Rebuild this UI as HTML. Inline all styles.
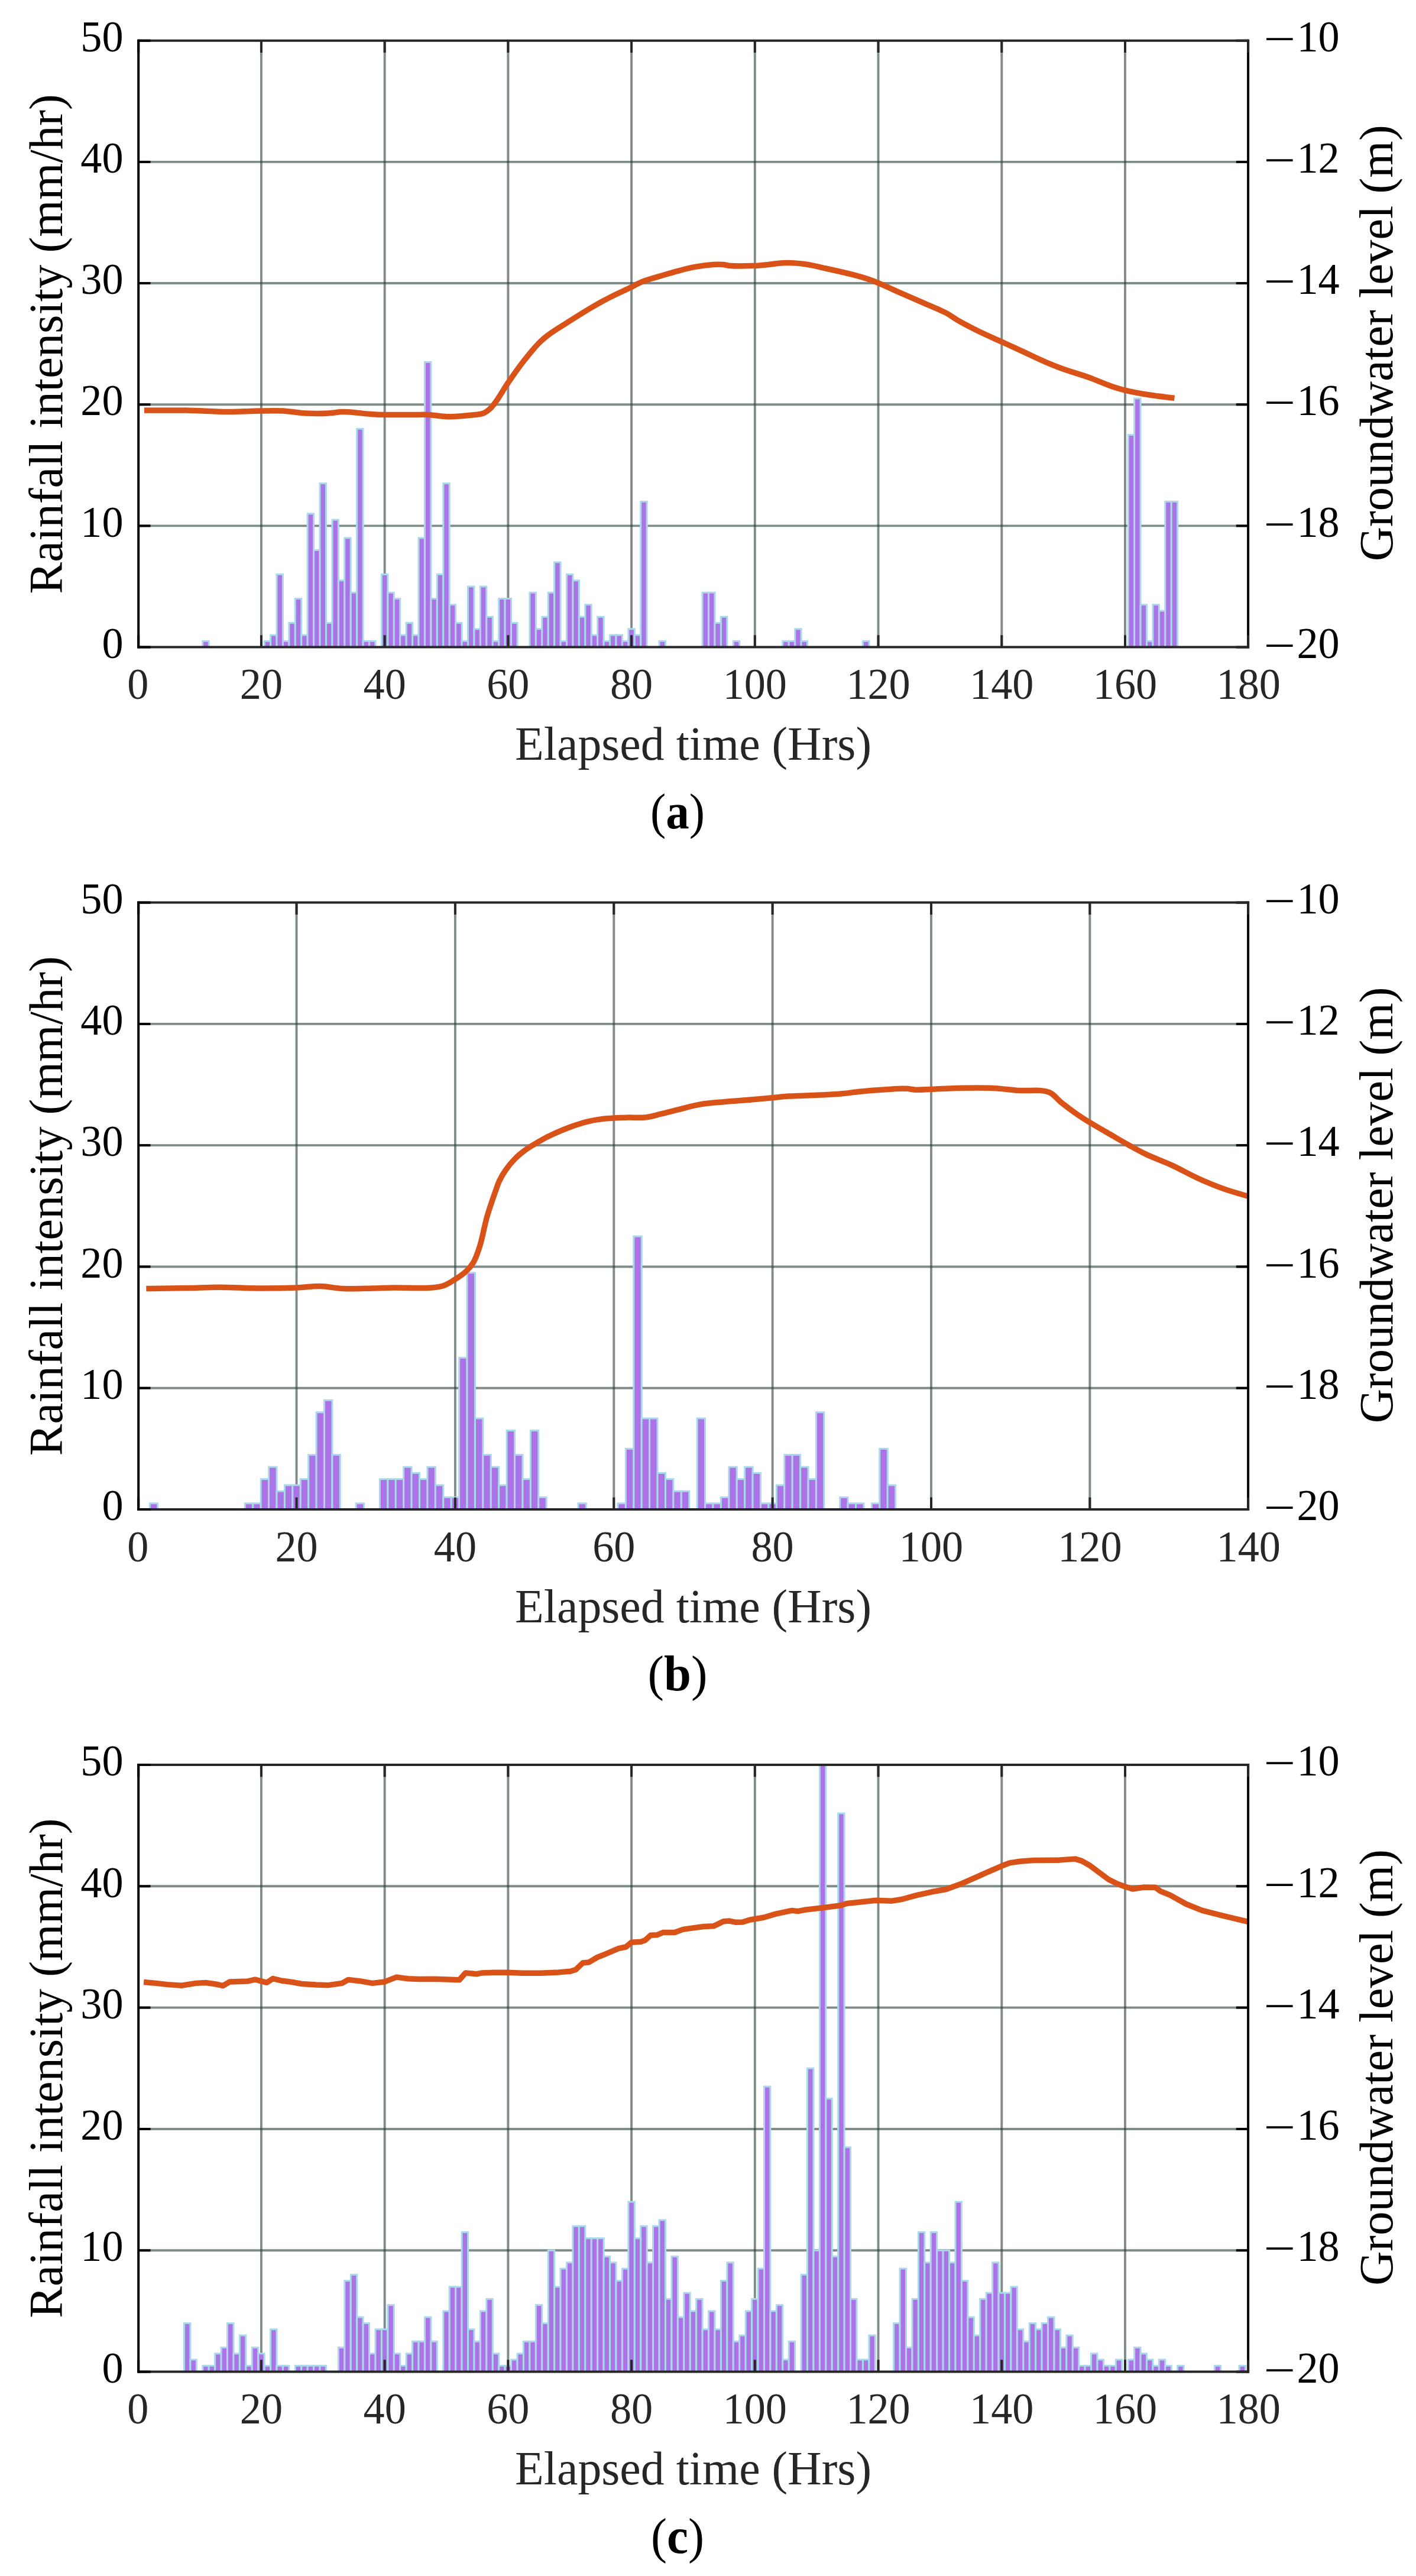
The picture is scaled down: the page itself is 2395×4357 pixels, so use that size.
<!DOCTYPE html>
<html lang="en">
<head>
<meta charset="utf-8">
<title>Rainfall intensity and groundwater level</title>
<style>
html,body{margin:0;padding:0;background:#fff;}
body{width:2395px;height:4357px;overflow:hidden;}
svg{display:block;}
text{white-space:pre;}
</style>
</head>
<body>
<svg width="2395" height="4357" viewBox="0 0 2395 4357">
<rect x="0" y="0" width="2395" height="4357" fill="#fff"/>
<g id="chart-a">
<clipPath id="clip-a"><rect x="234.2" y="68.7" width="1876.9" height="1025.9"/></clipPath>
<g stroke="rgba(42,63,60,0.6)" stroke-width="3.9" fill="none">
<line x1="441.92" y1="68.7" x2="441.92" y2="1094.6"/>
<line x1="650.64" y1="68.7" x2="650.64" y2="1094.6"/>
<line x1="859.37" y1="68.7" x2="859.37" y2="1094.6"/>
<line x1="1068.09" y1="68.7" x2="1068.09" y2="1094.6"/>
<line x1="1276.81" y1="68.7" x2="1276.81" y2="1094.6"/>
<line x1="1485.53" y1="68.7" x2="1485.53" y2="1094.6"/>
<line x1="1694.26" y1="68.7" x2="1694.26" y2="1094.6"/>
<line x1="1902.98" y1="68.7" x2="1902.98" y2="1094.6"/>
<line x1="234.2" y1="889.42" x2="2111.1" y2="889.42"/>
<line x1="234.2" y1="684.24" x2="2111.1" y2="684.24"/>
<line x1="234.2" y1="479.06" x2="2111.1" y2="479.06"/>
<line x1="234.2" y1="273.88" x2="2111.1" y2="273.88"/>
</g>
<g clip-path="url(#clip-a)" fill="#AC73E6" stroke="#AAD9EA" stroke-width="3.0">
<rect x="342.78" y="1084.34" width="10.44" height="10.26"/>
<rect x="447.14" y="1084.34" width="10.44" height="10.26"/>
<rect x="457.58" y="1074.08" width="10.44" height="20.52"/>
<rect x="468.01" y="971.49" width="10.44" height="123.11"/>
<rect x="478.45" y="1084.34" width="10.44" height="10.26"/>
<rect x="488.88" y="1053.56" width="10.44" height="41.04"/>
<rect x="499.32" y="1012.53" width="10.44" height="82.07"/>
<rect x="509.76" y="1074.08" width="10.44" height="20.52"/>
<rect x="520.19" y="868.9" width="10.44" height="225.7"/>
<rect x="530.63" y="930.46" width="10.44" height="164.14"/>
<rect x="541.07" y="817.61" width="10.44" height="276.99"/>
<rect x="551.5" y="1053.56" width="10.44" height="41.04"/>
<rect x="561.94" y="879.16" width="10.44" height="215.44"/>
<rect x="572.37" y="981.75" width="10.44" height="112.85"/>
<rect x="582.81" y="909.94" width="10.44" height="184.66"/>
<rect x="593.25" y="1002.27" width="10.44" height="92.33"/>
<rect x="603.68" y="725.28" width="10.44" height="369.32"/>
<rect x="614.12" y="1084.34" width="10.44" height="10.26"/>
<rect x="624.55" y="1084.34" width="10.44" height="10.26"/>
<rect x="645.43" y="971.49" width="10.44" height="123.11"/>
<rect x="655.86" y="1002.27" width="10.44" height="92.33"/>
<rect x="666.3" y="1012.53" width="10.44" height="82.07"/>
<rect x="676.73" y="1074.08" width="10.44" height="20.52"/>
<rect x="687.17" y="1053.56" width="10.44" height="41.04"/>
<rect x="697.61" y="1074.08" width="10.44" height="20.52"/>
<rect x="708.04" y="909.94" width="10.44" height="184.66"/>
<rect x="718.48" y="612.43" width="10.44" height="482.17"/>
<rect x="728.92" y="1012.53" width="10.44" height="82.07"/>
<rect x="739.35" y="971.49" width="10.44" height="123.11"/>
<rect x="749.79" y="817.61" width="10.44" height="276.99"/>
<rect x="760.22" y="1022.79" width="10.44" height="71.81"/>
<rect x="770.66" y="1053.56" width="10.44" height="41.04"/>
<rect x="781.1" y="1084.34" width="10.44" height="10.26"/>
<rect x="791.53" y="992.01" width="10.44" height="102.59"/>
<rect x="801.97" y="1063.82" width="10.44" height="30.78"/>
<rect x="812.4" y="992.01" width="10.44" height="102.59"/>
<rect x="822.84" y="1043.3" width="10.44" height="51.3"/>
<rect x="833.28" y="1084.34" width="10.44" height="10.26"/>
<rect x="843.71" y="1012.53" width="10.44" height="82.07"/>
<rect x="854.15" y="1012.53" width="10.44" height="82.07"/>
<rect x="864.58" y="1053.56" width="10.44" height="41.04"/>
<rect x="895.89" y="1002.27" width="10.44" height="92.33"/>
<rect x="906.33" y="1063.82" width="10.44" height="30.78"/>
<rect x="916.77" y="1043.3" width="10.44" height="51.3"/>
<rect x="927.2" y="1002.27" width="10.44" height="92.33"/>
<rect x="937.64" y="950.97" width="10.44" height="143.63"/>
<rect x="948.07" y="1084.34" width="10.44" height="10.26"/>
<rect x="958.51" y="971.49" width="10.44" height="123.11"/>
<rect x="968.95" y="981.75" width="10.44" height="112.85"/>
<rect x="979.38" y="1043.3" width="10.44" height="51.3"/>
<rect x="989.82" y="1022.79" width="10.44" height="71.81"/>
<rect x="1000.25" y="1074.08" width="10.44" height="20.52"/>
<rect x="1010.69" y="1043.3" width="10.44" height="51.3"/>
<rect x="1021.13" y="1084.34" width="10.44" height="10.26"/>
<rect x="1031.56" y="1074.08" width="10.44" height="20.52"/>
<rect x="1042" y="1074.08" width="10.44" height="20.52"/>
<rect x="1052.43" y="1084.34" width="10.44" height="10.26"/>
<rect x="1062.87" y="1063.82" width="10.44" height="30.78"/>
<rect x="1073.31" y="1074.08" width="10.44" height="20.52"/>
<rect x="1083.74" y="848.38" width="10.44" height="246.22"/>
<rect x="1115.05" y="1084.34" width="10.44" height="10.26"/>
<rect x="1188.1" y="1002.27" width="10.44" height="92.33"/>
<rect x="1198.54" y="1002.27" width="10.44" height="92.33"/>
<rect x="1208.98" y="1053.56" width="10.44" height="41.04"/>
<rect x="1219.41" y="1043.3" width="10.44" height="51.3"/>
<rect x="1240.28" y="1084.34" width="10.44" height="10.26"/>
<rect x="1323.77" y="1084.34" width="10.44" height="10.26"/>
<rect x="1334.21" y="1084.34" width="10.44" height="10.26"/>
<rect x="1344.65" y="1063.82" width="10.44" height="30.78"/>
<rect x="1355.08" y="1084.34" width="10.44" height="10.26"/>
<rect x="1459.44" y="1084.34" width="10.44" height="10.26"/>
<rect x="1908.2" y="735.53" width="10.44" height="359.06"/>
<rect x="1918.63" y="673.98" width="10.44" height="420.62"/>
<rect x="1929.07" y="1022.79" width="10.44" height="71.81"/>
<rect x="1939.5" y="1084.34" width="10.44" height="10.26"/>
<rect x="1949.94" y="1022.79" width="10.44" height="71.81"/>
<rect x="1960.38" y="1033.05" width="10.44" height="61.55"/>
<rect x="1970.81" y="848.38" width="10.44" height="246.22"/>
<rect x="1981.25" y="848.38" width="10.44" height="246.22"/>
</g>
<path clip-path="url(#clip-a)" d="M243.95 694.09C267.67 694.09 291.41 693.68 315.12 694.09C339.17 694.5 363.2 696.47 387.24 696.55C404.77 696.61 422.3 695.35 439.83 695.11C452.7 694.94 465.61 694.47 478.45 695.11C491.35 695.76 504.16 698.36 517.06 699.01C529.9 699.66 542.84 699.67 555.68 699.01C563.7 698.6 571.67 696.64 579.68 696.55C595.67 696.38 611.66 699.46 627.68 700.45C635.68 700.94 643.68 701.3 651.69 701.48C667.68 701.82 683.69 701.48 699.69 701.48C707.7 701.48 715.72 701.08 723.7 701.48C734.86 702.02 745.95 704.57 757.09 704.76C769.95 704.98 782.89 703.66 795.71 702.3C803.04 701.51 810.88 701.58 817.62 699.01C821.04 697.71 824.15 695.23 827.01 692.86C829.7 690.63 832.14 688 834.32 685.27C843.75 673.48 850.77 659.79 859.37 647.31C867.48 635.52 875.59 623.69 884.41 612.43C893.66 600.62 903.02 588.71 913.63 578.16C918.14 573.69 923.14 569.64 928.24 565.85C937.89 558.69 948.35 552.61 958.51 546.15C971.64 537.81 984.77 529.45 998.17 521.53C1007.78 515.85 1017.49 510.29 1027.39 505.12C1040.74 498.14 1054.54 492.03 1068.09 485.42C1074.36 482.36 1080.41 478.76 1086.87 476.19C1096.32 472.43 1106.33 470.09 1116.09 467.16C1126.16 464.14 1136.21 461.03 1146.36 458.34C1156.04 455.77 1165.74 453.16 1175.58 451.36C1185.57 449.53 1195.72 448.11 1205.85 447.46C1211.39 447.11 1217.01 447.01 1222.54 447.46C1226.75 447.8 1230.86 449.2 1235.07 449.51C1251.66 450.76 1268.5 449.82 1285.16 448.9C1290.04 448.63 1294.9 447.94 1299.77 447.46C1309.51 446.5 1319.24 444.72 1328.99 444.59C1340.46 444.44 1352.06 445.46 1363.43 447.05C1373.62 448.48 1383.63 451.2 1393.7 453.41C1410.08 457.02 1426.53 460.42 1442.75 464.7C1452.92 467.38 1463.07 470.29 1473.01 473.73C1477.25 475.19 1481.4 476.91 1485.53 478.65C1498.53 484.1 1511.25 490.2 1524.15 495.88C1537.34 501.69 1550.61 507.32 1563.8 513.12C1575.66 518.33 1587.86 522.89 1599.29 528.92C1607.58 533.29 1615.13 539.06 1623.29 543.69C1633.18 549.31 1643.34 554.48 1653.55 559.49C1666.95 566.06 1680.69 571.94 1694.26 578.16C1706.78 583.91 1719.31 589.63 1731.83 595.4C1743.66 600.85 1755.35 606.65 1767.31 611.81C1776.94 615.96 1786.68 619.92 1796.53 623.51C1811.32 628.89 1826.58 632.97 1841.4 638.28C1854.75 643.06 1867.64 649.13 1881.06 653.67C1888.26 656.1 1895.59 658.25 1902.98 660.03C1916.74 663.34 1930.74 665.8 1944.72 668.03C1958.57 670.24 1972.55 671.59 1986.47 673.37" fill="none" stroke="#D95319" stroke-width="9.5" stroke-linejoin="round" stroke-linecap="butt"/>
<g stroke="#000" stroke-width="4.0" fill="none">
<line x1="2111.1" y1="66.7" x2="2111.1" y2="1096.6"/>
<line x1="2111.1" y1="1094.6" x2="2090.8" y2="1094.6"/>
<line x1="2111.1" y1="889.42" x2="2090.8" y2="889.42"/>
<line x1="2111.1" y1="684.24" x2="2090.8" y2="684.24"/>
<line x1="2111.1" y1="479.06" x2="2090.8" y2="479.06"/>
<line x1="2111.1" y1="273.88" x2="2090.8" y2="273.88"/>
<line x1="2111.1" y1="68.7" x2="2090.8" y2="68.7"/>
</g>
<g stroke="#262626" stroke-width="4.0" fill="none">
<line x1="232.2" y1="68.7" x2="2113.1" y2="68.7"/>
<line x1="232.2" y1="1094.6" x2="2113.1" y2="1094.6"/>
<line x1="234.2" y1="1094.6" x2="234.2" y2="1074.3"/>
<line x1="234.2" y1="68.7" x2="234.2" y2="89"/>
<line x1="441.92" y1="1094.6" x2="441.92" y2="1074.3"/>
<line x1="441.92" y1="68.7" x2="441.92" y2="89"/>
<line x1="650.64" y1="1094.6" x2="650.64" y2="1074.3"/>
<line x1="650.64" y1="68.7" x2="650.64" y2="89"/>
<line x1="859.37" y1="1094.6" x2="859.37" y2="1074.3"/>
<line x1="859.37" y1="68.7" x2="859.37" y2="89"/>
<line x1="1068.09" y1="1094.6" x2="1068.09" y2="1074.3"/>
<line x1="1068.09" y1="68.7" x2="1068.09" y2="89"/>
<line x1="1276.81" y1="1094.6" x2="1276.81" y2="1074.3"/>
<line x1="1276.81" y1="68.7" x2="1276.81" y2="89"/>
<line x1="1485.53" y1="1094.6" x2="1485.53" y2="1074.3"/>
<line x1="1485.53" y1="68.7" x2="1485.53" y2="89"/>
<line x1="1694.26" y1="1094.6" x2="1694.26" y2="1074.3"/>
<line x1="1694.26" y1="68.7" x2="1694.26" y2="89"/>
<line x1="1902.98" y1="1094.6" x2="1902.98" y2="1074.3"/>
<line x1="1902.98" y1="68.7" x2="1902.98" y2="89"/>
<line x1="2111.1" y1="1094.6" x2="2111.1" y2="1074.3"/>
<line x1="2111.1" y1="68.7" x2="2111.1" y2="89"/>
</g>
<g stroke="#000" stroke-width="4.0" fill="none">
<line x1="234.2" y1="66.7" x2="234.2" y2="1096.6"/>
<line x1="234.2" y1="1094.6" x2="254.5" y2="1094.6"/>
<line x1="234.2" y1="889.42" x2="254.5" y2="889.42"/>
<line x1="234.2" y1="684.24" x2="254.5" y2="684.24"/>
<line x1="234.2" y1="479.06" x2="254.5" y2="479.06"/>
<line x1="234.2" y1="273.88" x2="254.5" y2="273.88"/>
<line x1="234.2" y1="68.7" x2="254.5" y2="68.7"/>
</g>
<g font-family='"Liberation Serif", "DejaVu Serif", serif' font-size="74.2" fill="#262626" text-anchor="middle">
<text x="233.2" y="1182.1" textLength="36.1" lengthAdjust="spacingAndGlyphs">0</text>
<text x="441.92" y="1182.1" textLength="72.2" lengthAdjust="spacingAndGlyphs">20</text>
<text x="650.64" y="1182.1" textLength="72.2" lengthAdjust="spacingAndGlyphs">40</text>
<text x="859.37" y="1182.1" textLength="72.2" lengthAdjust="spacingAndGlyphs">60</text>
<text x="1068.09" y="1182.1" textLength="72.2" lengthAdjust="spacingAndGlyphs">80</text>
<text x="1276.81" y="1182.1" textLength="108.3" lengthAdjust="spacingAndGlyphs">100</text>
<text x="1485.53" y="1182.1" textLength="108.3" lengthAdjust="spacingAndGlyphs">120</text>
<text x="1694.26" y="1182.1" textLength="108.3" lengthAdjust="spacingAndGlyphs">140</text>
<text x="1902.98" y="1182.1" textLength="108.3" lengthAdjust="spacingAndGlyphs">160</text>
<text x="2111.7" y="1182.1" textLength="108.3" lengthAdjust="spacingAndGlyphs">180</text>
</g>
<g font-family='"Liberation Serif", "DejaVu Serif", serif' font-size="74.2" fill="#000" text-anchor="end">
<text x="208.5" y="1112.8" textLength="36.1" lengthAdjust="spacingAndGlyphs">0</text>
<text x="208.5" y="907.62" textLength="72.2" lengthAdjust="spacingAndGlyphs">10</text>
<text x="208.5" y="702.44" textLength="72.2" lengthAdjust="spacingAndGlyphs">20</text>
<text x="208.5" y="497.26" textLength="72.2" lengthAdjust="spacingAndGlyphs">30</text>
<text x="208.5" y="292.08" textLength="72.2" lengthAdjust="spacingAndGlyphs">40</text>
<text x="208.5" y="86.9" textLength="72.2" lengthAdjust="spacingAndGlyphs">50</text>
</g>
<g font-family='"Liberation Serif", "DejaVu Serif", serif' font-size="74.2" fill="#000">
<text y="1112.8"><tspan x="2137.5" dy="4" textLength="54" lengthAdjust="spacingAndGlyphs">−</tspan><tspan x="2193.5" dy="-4" textLength="72.2" lengthAdjust="spacingAndGlyphs">20</tspan></text>
<text y="907.62"><tspan x="2137.5" dy="4" textLength="54" lengthAdjust="spacingAndGlyphs">−</tspan><tspan x="2193.5" dy="-4" textLength="72.2" lengthAdjust="spacingAndGlyphs">18</tspan></text>
<text y="702.44"><tspan x="2137.5" dy="4" textLength="54" lengthAdjust="spacingAndGlyphs">−</tspan><tspan x="2193.5" dy="-4" textLength="72.2" lengthAdjust="spacingAndGlyphs">16</tspan></text>
<text y="497.26"><tspan x="2137.5" dy="4" textLength="54" lengthAdjust="spacingAndGlyphs">−</tspan><tspan x="2193.5" dy="-4" textLength="72.2" lengthAdjust="spacingAndGlyphs">14</tspan></text>
<text y="292.08"><tspan x="2137.5" dy="4" textLength="54" lengthAdjust="spacingAndGlyphs">−</tspan><tspan x="2193.5" dy="-4" textLength="72.2" lengthAdjust="spacingAndGlyphs">12</tspan></text>
<text y="86.9"><tspan x="2137.5" dy="4" textLength="54" lengthAdjust="spacingAndGlyphs">−</tspan><tspan x="2193.5" dy="-4" textLength="72.2" lengthAdjust="spacingAndGlyphs">10</tspan></text>
</g>
<g font-family='"Liberation Serif", "DejaVu Serif", serif' font-size="81" text-anchor="middle">
<text x="1172.5" y="1285.4" fill="#262626" textLength="603" lengthAdjust="spacingAndGlyphs">Elapsed time (Hrs)</text>
<text transform="translate(104.8 581.8) rotate(-90)" fill="#000" textLength="845.2" lengthAdjust="spacingAndGlyphs">Rainfall intensity (mm/hr)</text>
<text transform="translate(2354.5 580.15) rotate(-90)" fill="#000" textLength="738" lengthAdjust="spacingAndGlyphs">Groundwater level (m)</text>
</g>
<text x="1146" y="1400.9" font-family='"Liberation Serif", "DejaVu Serif", serif' font-size="85" fill="#000" text-anchor="middle" textLength="92" lengthAdjust="spacingAndGlyphs">(<tspan font-weight="bold">a</tspan>)</text>
</g>
<g id="chart-b">
<clipPath id="clip-b"><rect x="234.2" y="1526.6" width="1876.9" height="1026.4"/></clipPath>
<g stroke="rgba(42,63,60,0.6)" stroke-width="3.9" fill="none">
<line x1="501.56" y1="1526.6" x2="501.56" y2="2553"/>
<line x1="769.91" y1="1526.6" x2="769.91" y2="2553"/>
<line x1="1038.27" y1="1526.6" x2="1038.27" y2="2553"/>
<line x1="1306.63" y1="1526.6" x2="1306.63" y2="2553"/>
<line x1="1574.99" y1="1526.6" x2="1574.99" y2="2553"/>
<line x1="1843.34" y1="1526.6" x2="1843.34" y2="2553"/>
<line x1="234.2" y1="2347.72" x2="2111.1" y2="2347.72"/>
<line x1="234.2" y1="2142.44" x2="2111.1" y2="2142.44"/>
<line x1="234.2" y1="1937.16" x2="2111.1" y2="1937.16"/>
<line x1="234.2" y1="1731.88" x2="2111.1" y2="1731.88"/>
</g>
<g clip-path="url(#clip-b)" fill="#AC73E6" stroke="#AAD9EA" stroke-width="3.0">
<rect x="253.33" y="2542.74" width="13.42" height="10.26"/>
<rect x="414.34" y="2542.74" width="13.42" height="10.26"/>
<rect x="427.76" y="2542.74" width="13.42" height="10.26"/>
<rect x="441.18" y="2501.68" width="13.42" height="51.32"/>
<rect x="454.59" y="2481.15" width="13.42" height="71.85"/>
<rect x="468.01" y="2522.21" width="13.42" height="30.79"/>
<rect x="481.43" y="2511.94" width="13.42" height="41.06"/>
<rect x="494.85" y="2511.94" width="13.42" height="41.06"/>
<rect x="508.27" y="2501.68" width="13.42" height="51.32"/>
<rect x="521.68" y="2460.62" width="13.42" height="92.38"/>
<rect x="535.1" y="2388.78" width="13.42" height="164.22"/>
<rect x="548.52" y="2368.25" width="13.42" height="184.75"/>
<rect x="561.94" y="2460.62" width="13.42" height="92.38"/>
<rect x="602.19" y="2542.74" width="13.42" height="10.26"/>
<rect x="642.44" y="2501.68" width="13.42" height="51.32"/>
<rect x="655.86" y="2501.68" width="13.42" height="51.32"/>
<rect x="669.28" y="2501.68" width="13.42" height="51.32"/>
<rect x="682.7" y="2481.15" width="13.42" height="71.85"/>
<rect x="696.12" y="2491.42" width="13.42" height="61.58"/>
<rect x="709.53" y="2501.68" width="13.42" height="51.32"/>
<rect x="722.95" y="2481.15" width="13.42" height="71.85"/>
<rect x="736.37" y="2511.94" width="13.42" height="41.06"/>
<rect x="749.79" y="2532.47" width="13.42" height="20.53"/>
<rect x="763.21" y="2532.47" width="13.42" height="20.53"/>
<rect x="776.62" y="2296.4" width="13.42" height="256.6"/>
<rect x="790.04" y="2152.7" width="13.42" height="400.3"/>
<rect x="803.46" y="2399.04" width="13.42" height="153.96"/>
<rect x="816.88" y="2460.62" width="13.42" height="92.38"/>
<rect x="830.29" y="2481.15" width="13.42" height="71.85"/>
<rect x="843.71" y="2511.94" width="13.42" height="41.06"/>
<rect x="857.13" y="2419.57" width="13.42" height="133.43"/>
<rect x="870.55" y="2460.62" width="13.42" height="92.38"/>
<rect x="883.97" y="2501.68" width="13.42" height="51.32"/>
<rect x="897.38" y="2419.57" width="13.42" height="133.43"/>
<rect x="910.8" y="2532.47" width="13.42" height="20.53"/>
<rect x="977.89" y="2542.74" width="13.42" height="10.26"/>
<rect x="1044.98" y="2542.74" width="13.42" height="10.26"/>
<rect x="1058.4" y="2450.36" width="13.42" height="102.64"/>
<rect x="1071.82" y="2091.12" width="13.42" height="461.88"/>
<rect x="1085.23" y="2399.04" width="13.42" height="153.96"/>
<rect x="1098.65" y="2399.04" width="13.42" height="153.96"/>
<rect x="1112.07" y="2491.42" width="13.42" height="61.58"/>
<rect x="1125.49" y="2501.68" width="13.42" height="51.32"/>
<rect x="1138.91" y="2522.21" width="13.42" height="30.79"/>
<rect x="1152.32" y="2522.21" width="13.42" height="30.79"/>
<rect x="1179.16" y="2399.04" width="13.42" height="153.96"/>
<rect x="1192.58" y="2542.74" width="13.42" height="10.26"/>
<rect x="1205.99" y="2542.74" width="13.42" height="10.26"/>
<rect x="1219.41" y="2532.47" width="13.42" height="20.53"/>
<rect x="1232.83" y="2481.15" width="13.42" height="71.85"/>
<rect x="1246.25" y="2501.68" width="13.42" height="51.32"/>
<rect x="1259.67" y="2481.15" width="13.42" height="71.85"/>
<rect x="1273.08" y="2491.42" width="13.42" height="61.58"/>
<rect x="1286.5" y="2542.74" width="13.42" height="10.26"/>
<rect x="1299.92" y="2542.74" width="13.42" height="10.26"/>
<rect x="1313.34" y="2511.94" width="13.42" height="41.06"/>
<rect x="1326.76" y="2460.62" width="13.42" height="92.38"/>
<rect x="1340.17" y="2460.62" width="13.42" height="92.38"/>
<rect x="1353.59" y="2481.15" width="13.42" height="71.85"/>
<rect x="1367.01" y="2501.68" width="13.42" height="51.32"/>
<rect x="1380.43" y="2388.78" width="13.42" height="164.22"/>
<rect x="1420.68" y="2532.47" width="13.42" height="20.53"/>
<rect x="1434.1" y="2542.74" width="13.42" height="10.26"/>
<rect x="1447.52" y="2542.74" width="13.42" height="10.26"/>
<rect x="1474.35" y="2542.74" width="13.42" height="10.26"/>
<rect x="1487.77" y="2450.36" width="13.42" height="102.64"/>
<rect x="1501.19" y="2511.94" width="13.42" height="41.06"/>
</g>
<path clip-path="url(#clip-b)" d="M247.29 2179.6C271.22 2179.25 295.15 2179.09 319.07 2178.57C335.63 2178.21 352.17 2177.15 368.72 2177.13C391.53 2177.11 414.34 2178.85 437.15 2178.98C458.62 2179.1 480.11 2178.78 501.56 2177.95C514.99 2177.44 528.42 2175.2 541.81 2175.49C554.81 2175.78 567.72 2178.99 580.72 2179.6C597.23 2180.36 613.82 2179.33 630.37 2178.98C642 2178.74 653.62 2178.12 665.25 2177.95C686.72 2177.64 708.33 2179.68 729.66 2177.95C736.41 2177.41 743.44 2176.83 749.79 2174.67C756.91 2172.24 763.5 2167.88 769.91 2163.79C776.48 2159.61 783.1 2155.18 788.7 2149.83C793.27 2145.47 797.6 2140.47 800.78 2135.05C805.66 2126.71 808.56 2117.05 811.51 2107.75C816.62 2091.67 818.91 2074.72 823.59 2058.48C827.91 2043.46 833.12 2028.67 838.35 2013.93C840.37 2008.21 842.17 2002.35 844.79 1996.9C847.86 1990.48 851.56 1984.25 855.65 1978.42C860.3 1971.81 865.55 1965.49 871.22 1959.74C876 1954.89 881.34 1950.51 886.78 1946.4C891.23 1943.04 896.01 1940.11 900.74 1937.16C906.37 1933.65 912.09 1930.27 917.91 1927.1C922.97 1924.34 928.14 1921.78 933.34 1919.3C938.48 1916.85 943.67 1914.53 948.91 1912.32C954.05 1910.15 959.23 1908.06 964.47 1906.16C969.61 1904.3 974.81 1902.62 980.04 1901.03C985.19 1899.47 990.37 1897.97 995.6 1896.72C1000.7 1895.51 1005.86 1894.46 1011.03 1893.64C1016.19 1892.82 1021.4 1892.28 1026.6 1891.79C1030.48 1891.43 1034.38 1891.18 1038.27 1890.97C1045.56 1890.58 1052.85 1890.33 1060.14 1890.15C1071.19 1889.88 1082.38 1891.04 1093.28 1889.74C1101.44 1888.77 1109.41 1886.12 1117.44 1884.2C1127.3 1881.83 1137.11 1879.23 1146.96 1876.81C1158.57 1873.95 1170.08 1870.46 1181.84 1868.39C1196.44 1865.83 1211.34 1864.87 1226.12 1863.46C1242.64 1861.9 1259.23 1860.98 1275.77 1859.56C1286.06 1858.68 1296.34 1857.66 1306.63 1856.69C1316.02 1855.81 1325.4 1854.63 1334.81 1854.02C1348.2 1853.15 1361.65 1853.21 1375.06 1852.58C1391.62 1851.81 1408.2 1851.16 1424.71 1849.71C1434.57 1848.84 1444.37 1847.19 1454.22 1846.22C1468.96 1844.77 1483.73 1843.62 1498.5 1842.73C1510.12 1842.03 1521.8 1840.81 1533.39 1841.29C1538.33 1841.5 1543.21 1842.91 1548.15 1843.14C1557.06 1843.56 1566.04 1842.66 1574.99 1842.32C1588.85 1841.8 1602.71 1840.78 1616.58 1840.47C1637.59 1840.01 1658.67 1839.52 1679.64 1840.47C1693.99 1841.12 1708.25 1843.27 1722.58 1844.37C1740.01 1845.71 1759.52 1841.46 1774.91 1847.66C1782.65 1850.77 1788.17 1859.22 1795.04 1864.7C1803.34 1871.31 1811.83 1877.72 1820.53 1883.79C1827.96 1888.97 1835.63 1893.82 1843.34 1898.57C1855.25 1905.89 1867.48 1912.69 1879.57 1919.71C1889.4 1925.41 1899.15 1931.26 1909.09 1936.75C1918.83 1942.13 1928.57 1947.57 1938.61 1952.35C1952.64 1959.03 1967.43 1964.11 1981.55 1970.62C1997.42 1977.94 2012.58 1986.84 2028.51 1994.02C2042.14 2000.16 2056.02 2005.86 2070.1 2010.86C2083.76 2015.7 2097.83 2019.34 2111.7 2023.58" fill="none" stroke="#D95319" stroke-width="9.5" stroke-linejoin="round" stroke-linecap="butt"/>
<g stroke="#000" stroke-width="4.0" fill="none">
<line x1="2111.1" y1="1524.6" x2="2111.1" y2="2555"/>
<line x1="2111.1" y1="2553" x2="2090.8" y2="2553"/>
<line x1="2111.1" y1="2347.72" x2="2090.8" y2="2347.72"/>
<line x1="2111.1" y1="2142.44" x2="2090.8" y2="2142.44"/>
<line x1="2111.1" y1="1937.16" x2="2090.8" y2="1937.16"/>
<line x1="2111.1" y1="1731.88" x2="2090.8" y2="1731.88"/>
<line x1="2111.1" y1="1526.6" x2="2090.8" y2="1526.6"/>
</g>
<g stroke="#262626" stroke-width="4.0" fill="none">
<line x1="232.2" y1="1526.6" x2="2113.1" y2="1526.6"/>
<line x1="232.2" y1="2553" x2="2113.1" y2="2553"/>
<line x1="234.2" y1="2553" x2="234.2" y2="2532.7"/>
<line x1="234.2" y1="1526.6" x2="234.2" y2="1546.9"/>
<line x1="501.56" y1="2553" x2="501.56" y2="2532.7"/>
<line x1="501.56" y1="1526.6" x2="501.56" y2="1546.9"/>
<line x1="769.91" y1="2553" x2="769.91" y2="2532.7"/>
<line x1="769.91" y1="1526.6" x2="769.91" y2="1546.9"/>
<line x1="1038.27" y1="2553" x2="1038.27" y2="2532.7"/>
<line x1="1038.27" y1="1526.6" x2="1038.27" y2="1546.9"/>
<line x1="1306.63" y1="2553" x2="1306.63" y2="2532.7"/>
<line x1="1306.63" y1="1526.6" x2="1306.63" y2="1546.9"/>
<line x1="1574.99" y1="2553" x2="1574.99" y2="2532.7"/>
<line x1="1574.99" y1="1526.6" x2="1574.99" y2="1546.9"/>
<line x1="1843.34" y1="2553" x2="1843.34" y2="2532.7"/>
<line x1="1843.34" y1="1526.6" x2="1843.34" y2="1546.9"/>
<line x1="2111.1" y1="2553" x2="2111.1" y2="2532.7"/>
<line x1="2111.1" y1="1526.6" x2="2111.1" y2="1546.9"/>
</g>
<g stroke="#000" stroke-width="4.0" fill="none">
<line x1="234.2" y1="1524.6" x2="234.2" y2="2555"/>
<line x1="234.2" y1="2553" x2="254.5" y2="2553"/>
<line x1="234.2" y1="2347.72" x2="254.5" y2="2347.72"/>
<line x1="234.2" y1="2142.44" x2="254.5" y2="2142.44"/>
<line x1="234.2" y1="1937.16" x2="254.5" y2="1937.16"/>
<line x1="234.2" y1="1731.88" x2="254.5" y2="1731.88"/>
<line x1="234.2" y1="1526.6" x2="254.5" y2="1526.6"/>
</g>
<g font-family='"Liberation Serif", "DejaVu Serif", serif' font-size="74.2" fill="#262626" text-anchor="middle">
<text x="233.2" y="2640.5" textLength="36.1" lengthAdjust="spacingAndGlyphs">0</text>
<text x="501.56" y="2640.5" textLength="72.2" lengthAdjust="spacingAndGlyphs">20</text>
<text x="769.91" y="2640.5" textLength="72.2" lengthAdjust="spacingAndGlyphs">40</text>
<text x="1038.27" y="2640.5" textLength="72.2" lengthAdjust="spacingAndGlyphs">60</text>
<text x="1306.63" y="2640.5" textLength="72.2" lengthAdjust="spacingAndGlyphs">80</text>
<text x="1574.99" y="2640.5" textLength="108.3" lengthAdjust="spacingAndGlyphs">100</text>
<text x="1843.34" y="2640.5" textLength="108.3" lengthAdjust="spacingAndGlyphs">120</text>
<text x="2111.7" y="2640.5" textLength="108.3" lengthAdjust="spacingAndGlyphs">140</text>
</g>
<g font-family='"Liberation Serif", "DejaVu Serif", serif' font-size="74.2" fill="#000" text-anchor="end">
<text x="208.5" y="2571.2" textLength="36.1" lengthAdjust="spacingAndGlyphs">0</text>
<text x="208.5" y="2365.92" textLength="72.2" lengthAdjust="spacingAndGlyphs">10</text>
<text x="208.5" y="2160.64" textLength="72.2" lengthAdjust="spacingAndGlyphs">20</text>
<text x="208.5" y="1955.36" textLength="72.2" lengthAdjust="spacingAndGlyphs">30</text>
<text x="208.5" y="1750.08" textLength="72.2" lengthAdjust="spacingAndGlyphs">40</text>
<text x="208.5" y="1544.8" textLength="72.2" lengthAdjust="spacingAndGlyphs">50</text>
</g>
<g font-family='"Liberation Serif", "DejaVu Serif", serif' font-size="74.2" fill="#000">
<text y="2571.2"><tspan x="2137.5" dy="4" textLength="54" lengthAdjust="spacingAndGlyphs">−</tspan><tspan x="2193.5" dy="-4" textLength="72.2" lengthAdjust="spacingAndGlyphs">20</tspan></text>
<text y="2365.92"><tspan x="2137.5" dy="4" textLength="54" lengthAdjust="spacingAndGlyphs">−</tspan><tspan x="2193.5" dy="-4" textLength="72.2" lengthAdjust="spacingAndGlyphs">18</tspan></text>
<text y="2160.64"><tspan x="2137.5" dy="4" textLength="54" lengthAdjust="spacingAndGlyphs">−</tspan><tspan x="2193.5" dy="-4" textLength="72.2" lengthAdjust="spacingAndGlyphs">16</tspan></text>
<text y="1955.36"><tspan x="2137.5" dy="4" textLength="54" lengthAdjust="spacingAndGlyphs">−</tspan><tspan x="2193.5" dy="-4" textLength="72.2" lengthAdjust="spacingAndGlyphs">14</tspan></text>
<text y="1750.08"><tspan x="2137.5" dy="4" textLength="54" lengthAdjust="spacingAndGlyphs">−</tspan><tspan x="2193.5" dy="-4" textLength="72.2" lengthAdjust="spacingAndGlyphs">12</tspan></text>
<text y="1544.8"><tspan x="2137.5" dy="4" textLength="54" lengthAdjust="spacingAndGlyphs">−</tspan><tspan x="2193.5" dy="-4" textLength="72.2" lengthAdjust="spacingAndGlyphs">10</tspan></text>
</g>
<g font-family='"Liberation Serif", "DejaVu Serif", serif' font-size="81" text-anchor="middle">
<text x="1172.5" y="2743.8" fill="#262626" textLength="603" lengthAdjust="spacingAndGlyphs">Elapsed time (Hrs)</text>
<text transform="translate(104.8 2039.7) rotate(-90)" fill="#000" textLength="845.2" lengthAdjust="spacingAndGlyphs">Rainfall intensity (mm/hr)</text>
<text transform="translate(2354.5 2038.3) rotate(-90)" fill="#000" textLength="738" lengthAdjust="spacingAndGlyphs">Groundwater level (m)</text>
</g>
<text x="1146" y="2859.3" font-family='"Liberation Serif", "DejaVu Serif", serif' font-size="85" fill="#000" text-anchor="middle" textLength="101" lengthAdjust="spacingAndGlyphs">(<tspan font-weight="bold">b</tspan>)</text>
</g>
<g id="chart-c">
<clipPath id="clip-c"><rect x="234.2" y="2985" width="1876.9" height="1026.6"/></clipPath>
<g stroke="rgba(42,63,60,0.6)" stroke-width="3.9" fill="none">
<line x1="441.92" y1="2985" x2="441.92" y2="4011.6"/>
<line x1="650.64" y1="2985" x2="650.64" y2="4011.6"/>
<line x1="859.37" y1="2985" x2="859.37" y2="4011.6"/>
<line x1="1068.09" y1="2985" x2="1068.09" y2="4011.6"/>
<line x1="1276.81" y1="2985" x2="1276.81" y2="4011.6"/>
<line x1="1485.53" y1="2985" x2="1485.53" y2="4011.6"/>
<line x1="1694.26" y1="2985" x2="1694.26" y2="4011.6"/>
<line x1="1902.98" y1="2985" x2="1902.98" y2="4011.6"/>
<line x1="234.2" y1="3806.28" x2="2111.1" y2="3806.28"/>
<line x1="234.2" y1="3600.96" x2="2111.1" y2="3600.96"/>
<line x1="234.2" y1="3395.64" x2="2111.1" y2="3395.64"/>
<line x1="234.2" y1="3190.32" x2="2111.1" y2="3190.32"/>
</g>
<g clip-path="url(#clip-c)" fill="#AC73E6" stroke="#AAD9EA" stroke-width="3.0">
<rect x="311.47" y="3929.47" width="10.44" height="82.13"/>
<rect x="321.91" y="3991.07" width="10.44" height="20.53"/>
<rect x="342.78" y="4001.33" width="10.44" height="10.27"/>
<rect x="353.22" y="4001.33" width="10.44" height="10.27"/>
<rect x="363.65" y="3980.8" width="10.44" height="30.8"/>
<rect x="374.09" y="3970.54" width="10.44" height="41.06"/>
<rect x="384.52" y="3929.47" width="10.44" height="82.13"/>
<rect x="394.96" y="3980.8" width="10.44" height="30.8"/>
<rect x="405.4" y="3950" width="10.44" height="61.6"/>
<rect x="415.83" y="4001.33" width="10.44" height="10.27"/>
<rect x="426.27" y="3970.54" width="10.44" height="41.06"/>
<rect x="436.7" y="3980.8" width="10.44" height="30.8"/>
<rect x="447.14" y="4001.33" width="10.44" height="10.27"/>
<rect x="457.58" y="3939.74" width="10.44" height="71.86"/>
<rect x="468.01" y="4001.33" width="10.44" height="10.27"/>
<rect x="478.45" y="4001.33" width="10.44" height="10.27"/>
<rect x="499.32" y="4001.33" width="10.44" height="10.27"/>
<rect x="509.76" y="4001.33" width="10.44" height="10.27"/>
<rect x="520.19" y="4001.33" width="10.44" height="10.27"/>
<rect x="530.63" y="4001.33" width="10.44" height="10.27"/>
<rect x="541.07" y="4001.33" width="10.44" height="10.27"/>
<rect x="572.37" y="3970.54" width="10.44" height="41.06"/>
<rect x="582.81" y="3857.61" width="10.44" height="153.99"/>
<rect x="593.25" y="3847.34" width="10.44" height="164.26"/>
<rect x="603.68" y="3919.21" width="10.44" height="92.39"/>
<rect x="614.12" y="3929.47" width="10.44" height="82.13"/>
<rect x="624.55" y="3980.8" width="10.44" height="30.8"/>
<rect x="634.99" y="3939.74" width="10.44" height="71.86"/>
<rect x="645.43" y="3939.74" width="10.44" height="71.86"/>
<rect x="655.86" y="3898.67" width="10.44" height="112.93"/>
<rect x="666.3" y="3980.8" width="10.44" height="30.8"/>
<rect x="676.73" y="4001.33" width="10.44" height="10.27"/>
<rect x="687.17" y="3980.8" width="10.44" height="30.8"/>
<rect x="697.61" y="3960.27" width="10.44" height="51.33"/>
<rect x="708.04" y="3960.27" width="10.44" height="51.33"/>
<rect x="718.48" y="3919.21" width="10.44" height="92.39"/>
<rect x="728.92" y="3960.27" width="10.44" height="51.33"/>
<rect x="749.79" y="3908.94" width="10.44" height="102.66"/>
<rect x="760.22" y="3867.88" width="10.44" height="143.72"/>
<rect x="770.66" y="3867.88" width="10.44" height="143.72"/>
<rect x="781.1" y="3775.48" width="10.44" height="236.12"/>
<rect x="791.53" y="3939.74" width="10.44" height="71.86"/>
<rect x="801.97" y="3960.27" width="10.44" height="51.33"/>
<rect x="812.4" y="3908.94" width="10.44" height="102.66"/>
<rect x="822.84" y="3888.41" width="10.44" height="123.19"/>
<rect x="833.28" y="3980.8" width="10.44" height="30.8"/>
<rect x="843.71" y="4001.33" width="10.44" height="10.27"/>
<rect x="854.15" y="4001.33" width="10.44" height="10.27"/>
<rect x="864.58" y="3991.07" width="10.44" height="20.53"/>
<rect x="875.02" y="3980.8" width="10.44" height="30.8"/>
<rect x="885.46" y="3960.27" width="10.44" height="51.33"/>
<rect x="895.89" y="3960.27" width="10.44" height="51.33"/>
<rect x="906.33" y="3898.67" width="10.44" height="112.93"/>
<rect x="916.77" y="3929.47" width="10.44" height="82.13"/>
<rect x="927.2" y="3806.28" width="10.44" height="205.32"/>
<rect x="937.64" y="3867.88" width="10.44" height="143.72"/>
<rect x="948.07" y="3837.08" width="10.44" height="174.52"/>
<rect x="958.51" y="3826.81" width="10.44" height="184.79"/>
<rect x="968.95" y="3765.22" width="10.44" height="246.38"/>
<rect x="979.38" y="3765.22" width="10.44" height="246.38"/>
<rect x="989.82" y="3785.75" width="10.44" height="225.85"/>
<rect x="1000.25" y="3785.75" width="10.44" height="225.85"/>
<rect x="1010.69" y="3785.75" width="10.44" height="225.85"/>
<rect x="1021.13" y="3816.55" width="10.44" height="195.05"/>
<rect x="1031.56" y="3826.81" width="10.44" height="184.79"/>
<rect x="1042" y="3857.61" width="10.44" height="153.99"/>
<rect x="1052.43" y="3837.08" width="10.44" height="174.52"/>
<rect x="1062.87" y="3724.15" width="10.44" height="287.45"/>
<rect x="1073.31" y="3785.75" width="10.44" height="225.85"/>
<rect x="1083.74" y="3765.22" width="10.44" height="246.38"/>
<rect x="1094.18" y="3826.81" width="10.44" height="184.79"/>
<rect x="1104.62" y="3765.22" width="10.44" height="246.38"/>
<rect x="1115.05" y="3754.95" width="10.44" height="256.65"/>
<rect x="1125.49" y="3888.41" width="10.44" height="123.19"/>
<rect x="1135.92" y="3816.55" width="10.44" height="195.05"/>
<rect x="1146.36" y="3919.21" width="10.44" height="92.39"/>
<rect x="1156.8" y="3878.14" width="10.44" height="133.46"/>
<rect x="1167.23" y="3908.94" width="10.44" height="102.66"/>
<rect x="1177.67" y="3888.41" width="10.44" height="123.19"/>
<rect x="1188.1" y="3939.74" width="10.44" height="71.86"/>
<rect x="1198.54" y="3908.94" width="10.44" height="102.66"/>
<rect x="1208.98" y="3939.74" width="10.44" height="71.86"/>
<rect x="1219.41" y="3857.61" width="10.44" height="153.99"/>
<rect x="1229.85" y="3826.81" width="10.44" height="184.79"/>
<rect x="1240.28" y="3960.27" width="10.44" height="51.33"/>
<rect x="1250.72" y="3950" width="10.44" height="61.6"/>
<rect x="1261.16" y="3908.94" width="10.44" height="102.66"/>
<rect x="1271.59" y="3888.41" width="10.44" height="123.19"/>
<rect x="1282.03" y="3837.08" width="10.44" height="174.52"/>
<rect x="1292.47" y="3529.1" width="10.44" height="482.5"/>
<rect x="1302.9" y="3908.94" width="10.44" height="102.66"/>
<rect x="1313.34" y="3898.67" width="10.44" height="112.93"/>
<rect x="1323.77" y="3991.07" width="10.44" height="20.53"/>
<rect x="1334.21" y="3960.27" width="10.44" height="51.33"/>
<rect x="1355.08" y="3847.34" width="10.44" height="164.26"/>
<rect x="1365.52" y="3498.3" width="10.44" height="513.3"/>
<rect x="1375.95" y="3806.28" width="10.44" height="205.32"/>
<rect x="1386.39" y="2964.47" width="10.44" height="1047.13"/>
<rect x="1396.83" y="3549.63" width="10.44" height="461.97"/>
<rect x="1407.26" y="3816.55" width="10.44" height="195.05"/>
<rect x="1417.7" y="3067.13" width="10.44" height="944.47"/>
<rect x="1428.13" y="3631.76" width="10.44" height="379.84"/>
<rect x="1438.57" y="3888.41" width="10.44" height="123.19"/>
<rect x="1449.01" y="3991.07" width="10.44" height="20.53"/>
<rect x="1459.44" y="3991.07" width="10.44" height="20.53"/>
<rect x="1469.88" y="3950" width="10.44" height="61.6"/>
<rect x="1511.62" y="3929.47" width="10.44" height="82.13"/>
<rect x="1522.06" y="3837.08" width="10.44" height="174.52"/>
<rect x="1532.5" y="3970.54" width="10.44" height="41.06"/>
<rect x="1542.93" y="3888.41" width="10.44" height="123.19"/>
<rect x="1553.37" y="3775.48" width="10.44" height="236.12"/>
<rect x="1563.8" y="3826.81" width="10.44" height="184.79"/>
<rect x="1574.24" y="3775.48" width="10.44" height="236.12"/>
<rect x="1584.68" y="3806.28" width="10.44" height="205.32"/>
<rect x="1595.11" y="3806.28" width="10.44" height="205.32"/>
<rect x="1605.55" y="3826.81" width="10.44" height="184.79"/>
<rect x="1615.98" y="3724.15" width="10.44" height="287.45"/>
<rect x="1626.42" y="3857.61" width="10.44" height="153.99"/>
<rect x="1636.86" y="3919.21" width="10.44" height="92.39"/>
<rect x="1647.29" y="3950" width="10.44" height="61.6"/>
<rect x="1657.73" y="3888.41" width="10.44" height="123.19"/>
<rect x="1668.17" y="3878.14" width="10.44" height="133.46"/>
<rect x="1678.6" y="3826.81" width="10.44" height="184.79"/>
<rect x="1689.04" y="3878.14" width="10.44" height="133.46"/>
<rect x="1699.47" y="3878.14" width="10.44" height="133.46"/>
<rect x="1709.91" y="3867.88" width="10.44" height="143.72"/>
<rect x="1720.35" y="3939.74" width="10.44" height="71.86"/>
<rect x="1730.78" y="3960.27" width="10.44" height="51.33"/>
<rect x="1741.22" y="3929.47" width="10.44" height="82.13"/>
<rect x="1751.65" y="3939.74" width="10.44" height="71.86"/>
<rect x="1762.09" y="3929.47" width="10.44" height="82.13"/>
<rect x="1772.53" y="3919.21" width="10.44" height="92.39"/>
<rect x="1782.96" y="3939.74" width="10.44" height="71.86"/>
<rect x="1793.4" y="3970.54" width="10.44" height="41.06"/>
<rect x="1803.83" y="3950" width="10.44" height="61.6"/>
<rect x="1814.27" y="3970.54" width="10.44" height="41.06"/>
<rect x="1824.71" y="4001.33" width="10.44" height="10.27"/>
<rect x="1835.14" y="4001.33" width="10.44" height="10.27"/>
<rect x="1845.58" y="3980.8" width="10.44" height="30.8"/>
<rect x="1856.02" y="3991.07" width="10.44" height="20.53"/>
<rect x="1866.45" y="4001.33" width="10.44" height="10.27"/>
<rect x="1876.89" y="4001.33" width="10.44" height="10.27"/>
<rect x="1887.32" y="3991.07" width="10.44" height="20.53"/>
<rect x="1908.2" y="3991.07" width="10.44" height="20.53"/>
<rect x="1918.63" y="3970.54" width="10.44" height="41.06"/>
<rect x="1929.07" y="3980.8" width="10.44" height="30.8"/>
<rect x="1939.5" y="3991.07" width="10.44" height="20.53"/>
<rect x="1949.94" y="4001.33" width="10.44" height="10.27"/>
<rect x="1960.38" y="3991.07" width="10.44" height="20.53"/>
<rect x="1970.81" y="4001.33" width="10.44" height="10.27"/>
<rect x="1991.68" y="4001.33" width="10.44" height="10.27"/>
<rect x="2054.3" y="4001.33" width="10.44" height="10.27"/>
<rect x="2096.05" y="4001.33" width="10.44" height="10.27"/>
</g>
<polyline clip-path="url(#clip-c)" points="243.11,3352.52 263.46,3354.37 283.82,3356.63 307.3,3358.27 331.3,3354.37 348,3353.55 365.22,3356.01 377.22,3358.68 388.7,3351.91 419.48,3350.88 431.49,3348.21 451.31,3353.34 461.75,3346.57 477.4,3350.26 494.1,3352.52 510.8,3355.6 534.8,3357.04 555.68,3357.66 578.64,3354.37 589.07,3348.42 609.94,3350.88 629.77,3354.37 650.64,3351.91 670.47,3344.1 690.3,3346.77 709.09,3347.39 734.13,3347.18 776.92,3348.83 787.36,3336.92 806.14,3338.77 815.53,3336.92 836.41,3336.3 859.37,3336.3 883.37,3337.33 914.68,3337.33 944.94,3335.89 964.77,3334.25 974.16,3331.17 985.64,3320.08 996.08,3319.06 1009.65,3310.84 1026.34,3304.07 1046.17,3295.65 1058.7,3292.98 1068.09,3285.18 1083.74,3284.36 1091.05,3281.69 1100.44,3273.27 1110.88,3272.86 1121.31,3268.55 1141.14,3268.55 1155.23,3263.41 1168.8,3261.36 1190.19,3258.49 1206.89,3257.87 1223.59,3249.66 1234.02,3249.04 1244.46,3251.3 1255.94,3251.09 1267.94,3247.19 1291.42,3243.29 1312.29,3237.13 1339.43,3231.38 1349.86,3232.62 1363.43,3229.95 1390.56,3226.87 1420.83,3222.97 1432.31,3219.48 1458.4,3216.81 1481.36,3214.34 1508.49,3215.16 1526.23,3212.29 1549.19,3205.92 1576.33,3199.76 1600.33,3195.45 1624.33,3186.83 1650.42,3175.33 1667.12,3167.94 1694.26,3156.03 1707.82,3150.9 1725.56,3148.23 1748.52,3146.59 1789.22,3146.18 1818.45,3144.12 1829.92,3147.61 1843.49,3155.42 1857.06,3165.48 1874.8,3178.82 1888.37,3185.6 1902.98,3190.94 1915.5,3195.04 1935.33,3191.96 1954.11,3192.37 1962.46,3198.53 1979.16,3205.31 2006.3,3220.5 2033.43,3231.38 2067.87,3240.21 2111.7,3250.68" fill="none" stroke="#D95319" stroke-width="9.5" stroke-linejoin="round" stroke-linecap="butt"/>
<g stroke="#000" stroke-width="4.0" fill="none">
<line x1="2111.1" y1="2983" x2="2111.1" y2="4013.6"/>
<line x1="2111.1" y1="4011.6" x2="2090.8" y2="4011.6"/>
<line x1="2111.1" y1="3806.28" x2="2090.8" y2="3806.28"/>
<line x1="2111.1" y1="3600.96" x2="2090.8" y2="3600.96"/>
<line x1="2111.1" y1="3395.64" x2="2090.8" y2="3395.64"/>
<line x1="2111.1" y1="3190.32" x2="2090.8" y2="3190.32"/>
<line x1="2111.1" y1="2985" x2="2090.8" y2="2985"/>
</g>
<g stroke="#262626" stroke-width="4.0" fill="none">
<line x1="232.2" y1="2985" x2="2113.1" y2="2985"/>
<line x1="232.2" y1="4011.6" x2="2113.1" y2="4011.6"/>
<line x1="234.2" y1="4011.6" x2="234.2" y2="3991.3"/>
<line x1="234.2" y1="2985" x2="234.2" y2="3005.3"/>
<line x1="441.92" y1="4011.6" x2="441.92" y2="3991.3"/>
<line x1="441.92" y1="2985" x2="441.92" y2="3005.3"/>
<line x1="650.64" y1="4011.6" x2="650.64" y2="3991.3"/>
<line x1="650.64" y1="2985" x2="650.64" y2="3005.3"/>
<line x1="859.37" y1="4011.6" x2="859.37" y2="3991.3"/>
<line x1="859.37" y1="2985" x2="859.37" y2="3005.3"/>
<line x1="1068.09" y1="4011.6" x2="1068.09" y2="3991.3"/>
<line x1="1068.09" y1="2985" x2="1068.09" y2="3005.3"/>
<line x1="1276.81" y1="4011.6" x2="1276.81" y2="3991.3"/>
<line x1="1276.81" y1="2985" x2="1276.81" y2="3005.3"/>
<line x1="1485.53" y1="4011.6" x2="1485.53" y2="3991.3"/>
<line x1="1485.53" y1="2985" x2="1485.53" y2="3005.3"/>
<line x1="1694.26" y1="4011.6" x2="1694.26" y2="3991.3"/>
<line x1="1694.26" y1="2985" x2="1694.26" y2="3005.3"/>
<line x1="1902.98" y1="4011.6" x2="1902.98" y2="3991.3"/>
<line x1="1902.98" y1="2985" x2="1902.98" y2="3005.3"/>
<line x1="2111.1" y1="4011.6" x2="2111.1" y2="3991.3"/>
<line x1="2111.1" y1="2985" x2="2111.1" y2="3005.3"/>
</g>
<g stroke="#000" stroke-width="4.0" fill="none">
<line x1="234.2" y1="2983" x2="234.2" y2="4013.6"/>
<line x1="234.2" y1="4011.6" x2="254.5" y2="4011.6"/>
<line x1="234.2" y1="3806.28" x2="254.5" y2="3806.28"/>
<line x1="234.2" y1="3600.96" x2="254.5" y2="3600.96"/>
<line x1="234.2" y1="3395.64" x2="254.5" y2="3395.64"/>
<line x1="234.2" y1="3190.32" x2="254.5" y2="3190.32"/>
<line x1="234.2" y1="2985" x2="254.5" y2="2985"/>
</g>
<g font-family='"Liberation Serif", "DejaVu Serif", serif' font-size="74.2" fill="#262626" text-anchor="middle">
<text x="233.2" y="4099.1" textLength="36.1" lengthAdjust="spacingAndGlyphs">0</text>
<text x="441.92" y="4099.1" textLength="72.2" lengthAdjust="spacingAndGlyphs">20</text>
<text x="650.64" y="4099.1" textLength="72.2" lengthAdjust="spacingAndGlyphs">40</text>
<text x="859.37" y="4099.1" textLength="72.2" lengthAdjust="spacingAndGlyphs">60</text>
<text x="1068.09" y="4099.1" textLength="72.2" lengthAdjust="spacingAndGlyphs">80</text>
<text x="1276.81" y="4099.1" textLength="108.3" lengthAdjust="spacingAndGlyphs">100</text>
<text x="1485.53" y="4099.1" textLength="108.3" lengthAdjust="spacingAndGlyphs">120</text>
<text x="1694.26" y="4099.1" textLength="108.3" lengthAdjust="spacingAndGlyphs">140</text>
<text x="1902.98" y="4099.1" textLength="108.3" lengthAdjust="spacingAndGlyphs">160</text>
<text x="2111.7" y="4099.1" textLength="108.3" lengthAdjust="spacingAndGlyphs">180</text>
</g>
<g font-family='"Liberation Serif", "DejaVu Serif", serif' font-size="74.2" fill="#000" text-anchor="end">
<text x="208.5" y="4029.8" textLength="36.1" lengthAdjust="spacingAndGlyphs">0</text>
<text x="208.5" y="3824.48" textLength="72.2" lengthAdjust="spacingAndGlyphs">10</text>
<text x="208.5" y="3619.16" textLength="72.2" lengthAdjust="spacingAndGlyphs">20</text>
<text x="208.5" y="3413.84" textLength="72.2" lengthAdjust="spacingAndGlyphs">30</text>
<text x="208.5" y="3208.52" textLength="72.2" lengthAdjust="spacingAndGlyphs">40</text>
<text x="208.5" y="3003.2" textLength="72.2" lengthAdjust="spacingAndGlyphs">50</text>
</g>
<g font-family='"Liberation Serif", "DejaVu Serif", serif' font-size="74.2" fill="#000">
<text y="4029.8"><tspan x="2137.5" dy="4" textLength="54" lengthAdjust="spacingAndGlyphs">−</tspan><tspan x="2193.5" dy="-4" textLength="72.2" lengthAdjust="spacingAndGlyphs">20</tspan></text>
<text y="3824.48"><tspan x="2137.5" dy="4" textLength="54" lengthAdjust="spacingAndGlyphs">−</tspan><tspan x="2193.5" dy="-4" textLength="72.2" lengthAdjust="spacingAndGlyphs">18</tspan></text>
<text y="3619.16"><tspan x="2137.5" dy="4" textLength="54" lengthAdjust="spacingAndGlyphs">−</tspan><tspan x="2193.5" dy="-4" textLength="72.2" lengthAdjust="spacingAndGlyphs">16</tspan></text>
<text y="3413.84"><tspan x="2137.5" dy="4" textLength="54" lengthAdjust="spacingAndGlyphs">−</tspan><tspan x="2193.5" dy="-4" textLength="72.2" lengthAdjust="spacingAndGlyphs">14</tspan></text>
<text y="3208.52"><tspan x="2137.5" dy="4" textLength="54" lengthAdjust="spacingAndGlyphs">−</tspan><tspan x="2193.5" dy="-4" textLength="72.2" lengthAdjust="spacingAndGlyphs">12</tspan></text>
<text y="3003.2"><tspan x="2137.5" dy="4" textLength="54" lengthAdjust="spacingAndGlyphs">−</tspan><tspan x="2193.5" dy="-4" textLength="72.2" lengthAdjust="spacingAndGlyphs">10</tspan></text>
</g>
<g font-family='"Liberation Serif", "DejaVu Serif", serif' font-size="81" text-anchor="middle">
<text x="1172.5" y="4202.4" fill="#262626" textLength="603" lengthAdjust="spacingAndGlyphs">Elapsed time (Hrs)</text>
<text transform="translate(104.8 3498.1) rotate(-90)" fill="#000" textLength="845.2" lengthAdjust="spacingAndGlyphs">Rainfall intensity (mm/hr)</text>
<text transform="translate(2354.5 3496.8) rotate(-90)" fill="#000" textLength="738" lengthAdjust="spacingAndGlyphs">Groundwater level (m)</text>
</g>
<text x="1146" y="4317.9" font-family='"Liberation Serif", "DejaVu Serif", serif' font-size="85" fill="#000" text-anchor="middle" textLength="90" lengthAdjust="spacingAndGlyphs">(<tspan font-weight="bold">c</tspan>)</text>
</g>
</svg>
</body>
</html>
